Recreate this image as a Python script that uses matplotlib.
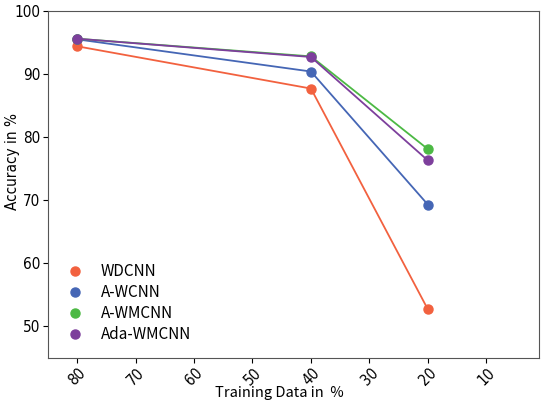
import matplotlib
matplotlib.use("Agg")
import matplotlib.pyplot as plt

training = [80, 40, 20]
wdcnn = [94.4, 87.7, 52.7]
a_wcnn = [95.5, 90.4, 69.3]
a_wmcnn = [95.6, 92.8, 78.1]
ada_wmcnn = [95.6, 92.7, 76.3]
series_names = ["WDCNN", "A-WCNN", "A-WMCNN", "Ada-WMCNN"]
xticks = [80, 70, 60, 50, 40, 30, 20, 10]
yticks = [50, 60, 70, 80, 90, 100]

colors = ["#f2613f", "#4566b5", "#4cb944", "#7d3f9c"]
cjk = ['Noto Sans CJK SC', 'DejaVu Sans']

fig = plt.figure(figsize=(5.5, 4.05), dpi=100)
ax = fig.add_axes([0.087, 0.116, 0.893, 0.857])

for vals, name, c in zip([wdcnn, a_wcnn, a_wmcnn, ada_wmcnn], series_names, colors):
    ax.plot(training, vals, color=c, lw=1.3)
    ax.plot(training, vals, 'o', color=c, ms=6.5, label=name, ls='none')

ax.set_xlim(85, 1)
ax.set_ylim(45, 100)
ax.set_xticks(xticks)
ax.set_yticks(yticks)
ax.tick_params(axis='x', labelrotation=45, labelsize=11, pad=2)
ax.tick_params(axis='y', labelsize=11, pad=2)
for lab in ax.get_xticklabels() + ax.get_yticklabels():
    lab.set_fontstretch('condensed')
for s in ax.spines.values():
    s.set_color('#555555')
ax.set_ylabel("Accuracy in %", fontsize=11, fontstretch='condensed')
ax.yaxis.set_label_coords(-0.056, 0.565)
ax.set_xlabel("Training Data in  %", fontsize=10.5, family=cjk)
ax.xaxis.set_label_coords(0.472, -0.082)
ax.xaxis.label.set_va('top')
leg = ax.legend(loc='lower left', frameon=False,
                prop={'family': cjk, 'size': 11},
                handlelength=1.6, handletextpad=0.9, labelspacing=0.26,
                borderaxespad=0.3, bbox_to_anchor=(0.008, 0.012))
fig.savefig("out.png", dpi=100)
